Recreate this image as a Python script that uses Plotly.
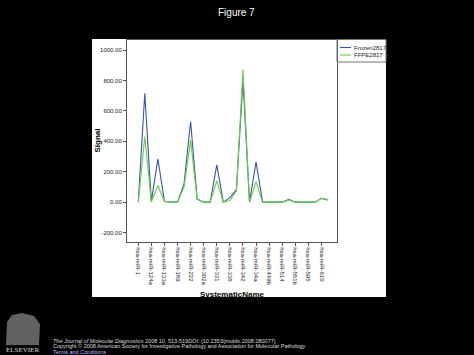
import plotly.graph_objects as go

categories = [
    "hsa-miR-1", "hsa-miR-122a", "hsa-miR-124a", "hsa-miR-125b", "hsa-miR-133a",
    "hsa-miR-181a", "hsa-miR-189", "hsa-miR-200c", "hsa-miR-222", "hsa-miR-23a",
    "hsa-miR-302a", "hsa-miR-320", "hsa-miR-331", "hsa-miR-335", "hsa-miR-338",
    "hsa-miR-340", "hsa-miR-342", "hsa-miR-345", "hsa-miR-34a", "hsa-miR-424",
    "hsa-miR-449b", "hsa-miR-498", "hsa-miR-514", "hsa-miR-520", "hsa-miR-551b",
    "hsa-miR-563", "hsa-miR-595", "hsa-miR-603", "hsa-miR-610", "hsa-miR-7",
]
frozen = [0, 715, 5, 285, 5, 0, 0, 120, 530, 20,
          0, 0, 245, 0, 30, 82, 800, 0, 265, 0,
          0, 0, 0, 18, 0, 0, 0, 0, 25, 15]
ffpe = [0, 432, 0, 110, 5, 0, 0, 100, 408, 20,
        0, 0, 140, 0, 10, 75, 872, 0, 135, 0,
        0, 0, 0, 15, 0, 0, 0, 0, 25, 15]
tick_labels = categories[::2]
y_ticks = [-200, 0, 200, 400, 600, 800, 1000]

L, R, T, B = 127, 337, 40, 242
W, H = 474, 355
FONT = "Arial, Liberation Sans, sans-serif"


def px(x):
    return (x - L) / (R - L)


def py(y):
    return (B - y) / (B - T)


def band(x0, y0, x1, y1):
    return dict(type="rect", xref="paper", yref="paper", x0=px(x0), x1=px(x1), y0=py(y1), y1=py(y0),
                fillcolor="black", line=dict(width=0), layer="above")


fig = go.Figure()
fig.add_trace(go.Scatter(x=categories, y=frozen, mode="lines", name="Frozen2817",
                         line=dict(color="#3d55a8", width=1.1)))
fig.add_trace(go.Scatter(x=categories, y=ffpe, mode="lines", name="FFPE2817",
                         line=dict(color="#63d040", width=1.1)))

shapes = [
    # black surround of the white panel (panel: x 92-386, y 39-297)
    band(-5, -5, W + 5, 39),
    band(-5, 297, W + 5, H + 5),
    band(-5, 39, 92, 297),
    band(386, 39, W + 5, 297),
    # legend box
    dict(type="rect", xref="paper", yref="paper", x0=px(337), x1=px(386), y0=py(62), y1=py(39.5),
         fillcolor="rgba(0,0,0,0)", line=dict(color="#777", width=1)),
    dict(type="line", xref="paper", yref="paper", x0=px(340), x1=px(351), y0=py(47.5), y1=py(47.5),
         line=dict(color="#3d55a8", width=1.1)),
    dict(type="line", xref="paper", yref="paper", x0=px(340), x1=px(351), y0=py(55), y1=py(55),
         line=dict(color="#63d040", width=1.1)),
    # Elsevier tree logo (approximation)
    dict(type="path", xref="paper", yref="paper", layer="above",
         path=f"M {px(6)},{py(345)} L {px(7)},{py(322)} L {px(12)},{py(315)} L {px(22)},{py(313)} "
              f"L {px(34)},{py(316)} L {px(40)},{py(324)} L {px(39)},{py(345)} Z",
         fillcolor="rgba(150,150,150,0.65)", line=dict(width=0)),
]

annotations = [
    dict(text="Figure 7", x=px(236), y=py(12), xref="paper", yref="paper", showarrow=False,
         font=dict(family=FONT, size=10, color="white"), xanchor="center", yanchor="middle"),
    dict(text="<b>Signal</b>", x=px(96.5), y=py(141), xref="paper", yref="paper", showarrow=False,
         textangle=-90, font=dict(family=FONT, size=8, color="black"),
         xanchor="center", yanchor="middle"),
    dict(text="Frozen2817", x=px(351.5), y=py(47.5), xref="paper", yref="paper", showarrow=False,
         font=dict(family=FONT, size=6, color="#222"), xanchor="left", yanchor="middle"),
    dict(text="FFPE2817", x=px(351.5), y=py(55), xref="paper", yref="paper", showarrow=False,
         font=dict(family=FONT, size=6, color="#222"), xanchor="left", yanchor="middle"),
    dict(text="ELSEVIER", x=px(22), y=py(350), xref="paper", yref="paper", showarrow=False,
         font=dict(family="Liberation Serif, Times New Roman, serif", size=7, color="#ddd"),
         xanchor="center", yanchor="middle"),
    dict(text="<i>The Journal of Molecular Diagnostics</i> 2008 10, 513-519DOI: (10.2353/jmoldx.2008.080077)",
         x=px(51), y=py(340.5), xref="paper", yref="paper", showarrow=False,
         font=dict(family=FONT, size=5.5, color="#ddd"), xanchor="left", yanchor="middle"),
    dict(text="Copyright © 2008 American Society for Investigative Pathology and Association for Molecular Pathology",
         x=px(51), y=py(345.5), xref="paper", yref="paper", showarrow=False,
         font=dict(family=FONT, size=5.5, color="#ddd"), xanchor="left", yanchor="middle"),
    dict(text="Terms and Conditions",
         x=px(51), y=py(351.5), xref="paper", yref="paper", showarrow=False,
         font=dict(family=FONT, size=5.5, color="#b9b9ff"), xanchor="left", yanchor="middle"),
]

fig.update_layout(
    width=W, height=H,
    margin=dict(l=L, r=W - R, t=T, b=H - B, pad=0),
    paper_bgcolor="white",
    plot_bgcolor="white",
    showlegend=False,
    shapes=shapes,
    annotations=annotations,
    xaxis=dict(
        type="category",
        categoryorder="array", categoryarray=categories,
        range=[-1.72, 30.37],
        tickmode="array", tickvals=tick_labels, ticktext=tick_labels,
        tickangle=90,
        tickfont=dict(family=FONT, size=6, color="#222"),
        ticks="outside", ticklen=3, tickcolor="#555",
        showline=True, linecolor="#555", linewidth=1, mirror=True,
        showgrid=False, zeroline=False,
        title=dict(text="<b>SystematicName</b>", standoff=6,
                   font=dict(family=FONT, size=8, color="black")),
    ),
    yaxis=dict(
        range=[-262, 1066],
        tickmode="array", tickvals=y_ticks, ticktext=[f"{v:.2f}" for v in y_ticks],
        tickfont=dict(family=FONT, size=6, color="#222"),
        ticks="outside", ticklen=3, tickcolor="#555",
        showline=True, linecolor="#555", linewidth=1, mirror=True,
        showgrid=False, zeroline=False,
    ),
)

fig.write_html("out.html", config={"displayModeBar": False},
               post_script="document.body.style.margin='0';")
